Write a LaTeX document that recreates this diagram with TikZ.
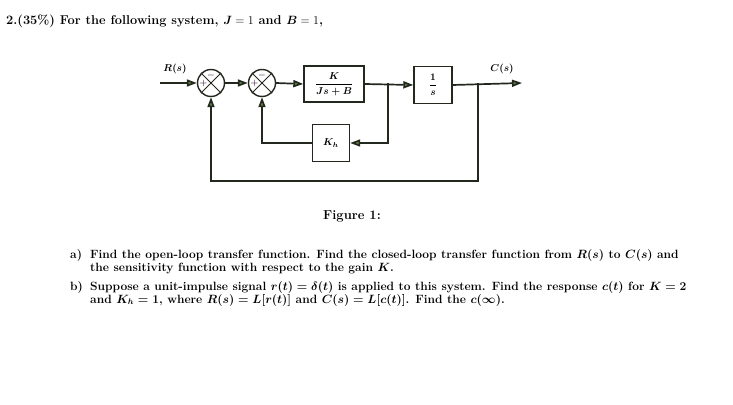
\documentclass[tikz,border=0pt]{standalone}
\usepackage{amsmath}
\usetikzlibrary{arrows.meta}
\definecolor{ln}{RGB}{35,40,30}
\definecolor{ah}{RGB}{95,135,70}
\definecolor{sg}{RGB}{70,30,70}
\begin{document}
\begin{tikzpicture}[x=1pt,y=-1pt,
  wire/.style={draw=ln,line width=1.7pt},
  arr/.style={wire,-{Triangle[length=10pt,width=7pt,fill=ah]}},
  sumnode/.style={circle,draw=ln,line width=1.4pt,minimum size=27pt,inner sep=0pt},
  blk/.style={draw=ln,line width=1.4pt,inner sep=0pt},
  sig/.style={font=\bfseries},
  txt/.style={anchor=base west,inner sep=0pt,font=\fontsize{12}{14}\selectfont\bfseries}]
\useasboundingbox (0,0) rectangle (733,404);
\node[txt,font=\fontsize{12.8}{15}\selectfont\bfseries] (t0) at (6,25) {2.(35\%) For the following system, $\boldsymbol{J}=1$ and $\boldsymbol{B}=1$,};
% diagram
\coordinate (in) at (160,83);
\node[sumnode] (s1) at (211,83) {};
\node[sumnode] (s2) at (262,83) {};
\node[blk,minimum width=60pt,minimum height=36pt] (g) at (334,84) {$\boldsymbol{\dfrac{K}{Js+B}}$};
\node[blk,minimum width=38pt,minimum height=37pt] (i) at (433,85) {$\boldsymbol{\dfrac{1}{s}}$};
\node[blk,minimum width=37pt,minimum height=37pt] (ka) at (331,143) {$\boldsymbol{K_h}$};
\coordinate (out) at (522,83);
\coordinate (b1) at (388,83);
\coordinate (b2) at (478,83);
\node[sig,anchor=south] (rl) at (175,78) {$\boldsymbol{R(s)}$};
\node[sig,anchor=south] (cl) at (502,78) {$\boldsymbol{C(s)}$};
\foreach \s in {s1,s2}{
  \draw[ln,line width=1pt] (\s.north west) -- (\s.south east) (\s.north east) -- (\s.south west);
  \node[font=\footnotesize\bfseries,text=sg,inner sep=0pt] at ([xshift=-7.5pt]\s.center) {+};
  \node[font=\footnotesize\bfseries,text=sg,inner sep=0pt] at ([yshift=7.5pt]\s.center) {$\boldsymbol{-}$};
}
\draw[arr] (in) -- (s1.west);
\draw[arr] (s1.east) -- (s2.west);
\draw[arr] (s2.east) -- (g.west);
\draw[arr] (g.east) -- (i.west);
\draw[arr] (i.east) -- (out);
\draw[arr] (b1) |- (ka.east);
\draw[arr] (ka.west) -| (s2.south);
\draw[arr] (b2) |- (211,181) -- (s1.south);
\node[txt,font=\fontsize{13}{15}\selectfont\bfseries] (fig) at (323,219) {Figure 1:};
\node[txt] (a1l) at (70,258) {a)};
\node[txt] (a1) at (90,258) {Find the open-loop transfer function. Find the closed-loop transfer function from $\boldsymbol{R(s)}$ to $\boldsymbol{C(s)}$ and};
\node[txt] (a2) at (90,271) {the sensitivity function with respect to the gain $\boldsymbol{K}$.};
\node[txt] (b1l) at (70,290) {b)};
\node[txt] (bb1) at (90,290) {Suppose a unit-impulse signal $\boldsymbol{r(t)=\delta(t)}$ is applied to this system. Find the response $\boldsymbol{c(t)}$ for $\boldsymbol{K=2}$};
\node[txt] (bb2) at (90,303) {and $\boldsymbol{K_h=1}$, where $\boldsymbol{R(s)=L[r(t)]}$ and $\boldsymbol{C(s)=L[c(t)]}$. Find the $\boldsymbol{c(\infty)}$.};
\end{tikzpicture}
\end{document}
